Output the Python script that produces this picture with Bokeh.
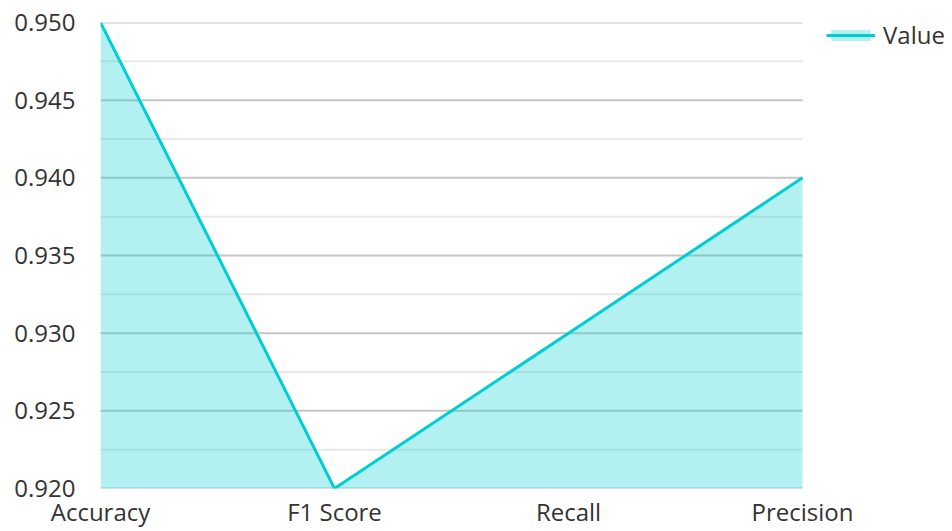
from bokeh.plotting import figure
from bokeh.models import Range1d, FixedTicker, Legend, LegendItem, ColumnDataSource
from bokeh.embed import file_html
from bokeh.resources import INLINE

categories = ["Accuracy", "F1 Score", "Recall", "Precision"]
values = [0.950, 0.920, 0.930, 0.940]
y_ticks = [0.920, 0.925, 0.930, 0.935, 0.940, 0.945, 0.950]
y_minor_ticks = [0.9225, 0.9275, 0.9325, 0.9375, 0.9425, 0.9475]
baseline = 0.920

x_pos = list(range(len(categories)))
src = ColumnDataSource(dict(x=x_pos, y=values, base=[baseline] * len(values)))

FONT = "Open Sans"
TXT = "#333333"
COL = "#00CED1"

W, H = 952, 531
LEFT, TOP, BOTTOM = 100, 22, 43
PLOT_W = 702          # width of the data area in px
frame_w = W - LEFT
x_end = (len(categories) - 1) * frame_w / PLOT_W   # extra room on the right for the legend

p = figure(width=W, height=H, output_backend="svg", toolbar_location=None,
           x_range=Range1d(0, x_end), y_range=Range1d(y_ticks[0], y_ticks[-1]),
           min_border_left=LEFT, min_border_right=0, min_border_top=TOP, min_border_bottom=BOTTOM)
p.outline_line_color = None
p.background_fill_color = "white"
p.xgrid.grid_line_color = None
p.ygrid.grid_line_color = None

# grid lines limited to the data area
x0 = x_pos[0]
x1 = x_pos[-1]
p.segment(x0=[x0] * len(y_minor_ticks), x1=[x1] * len(y_minor_ticks), y0=y_minor_ticks, y1=y_minor_ticks,
          line_color="#e8e8e8", line_width=2, level="underlay")
p.segment(x0=[x0] * len(y_ticks), x1=[x1] * len(y_ticks), y0=y_ticks, y1=y_ticks,
          line_color="#c6c6c6", line_width=2, level="underlay")

area = p.varea(x="x", y1="base", y2="y", source=src, fill_color=COL, fill_alpha=0.3)
line = p.line(x="x", y="y", source=src, line_color=COL, line_width=3)

p.xaxis.ticker = FixedTicker(ticks=x_pos)
p.xaxis.major_label_overrides = {i: c for i, c in zip(x_pos, categories)}
p.yaxis.ticker = FixedTicker(ticks=y_ticks)
p.yaxis.major_label_overrides = {t: f"{t:.3f}" for t in y_ticks}

for ax in (p.xaxis[0], p.yaxis[0]):
    ax.axis_line_color = None
    ax.major_tick_line_color = None
    ax.minor_tick_line_color = None
    ax.major_tick_out = 0
    ax.major_tick_in = 0
    ax.minor_tick_out = 0
    ax.minor_tick_in = 0
    ax.major_label_text_font = FONT
    ax.major_label_text_font_size = "24px"
    ax.major_label_text_color = TXT
p.xaxis.major_label_standoff = 6
p.yaxis.major_label_standoff = 25

legend = Legend(items=[LegendItem(label="Value", renderers=[area, line])],
                location=(726, 437), orientation="vertical",
                label_text_font=FONT, label_text_font_size="24px", label_text_color=TXT,
                glyph_width=49, glyph_height=14, label_standoff=8,
                padding=0, margin=0, spacing=0,
                background_fill_alpha=0, border_line_color=None)
p.add_layout(legend)

open("out.html", "w").write(file_html(p, INLINE))
